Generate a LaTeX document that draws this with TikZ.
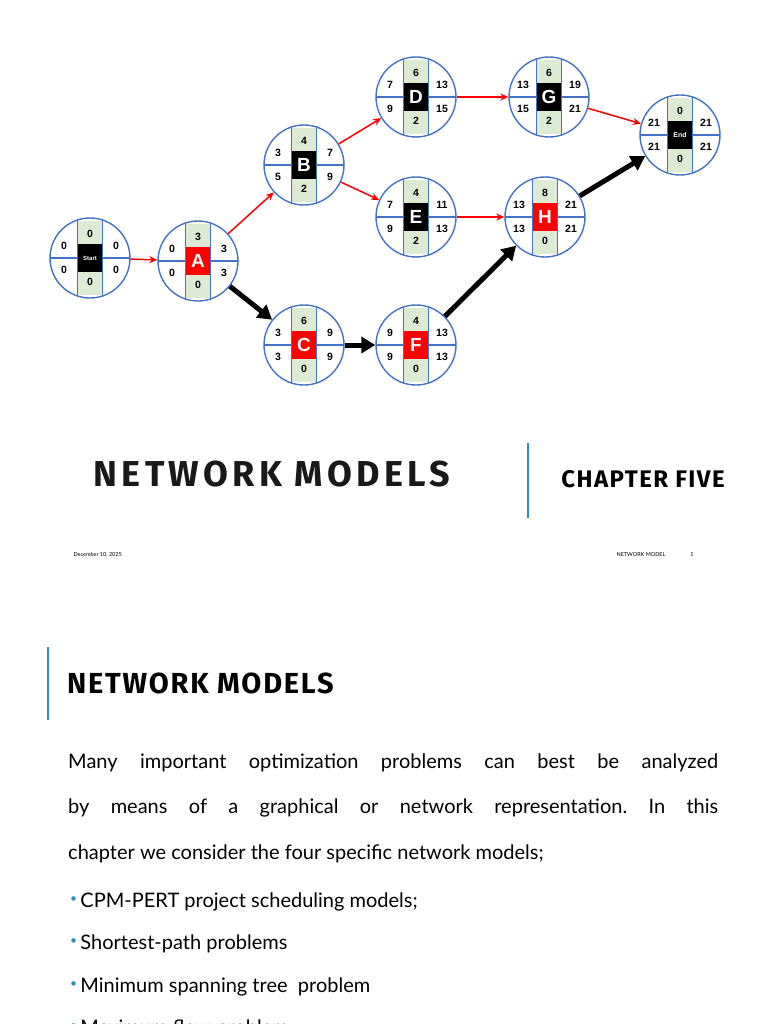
\documentclass[tikz,border=0pt]{standalone}
\usepackage{fontspec}
\setmainfont{Lato}
\newfontfamily\titlef[LetterSpace=12]{Fira Sans}
\newfontfamily\titlefb[LetterSpace=6]{Fira Sans}
\newfontfamily\numf{Liberation Sans}
\usetikzlibrary{arrows.meta}
\definecolor{cblue}{HTML}{4472C4}
\definecolor{sgreen}{HTML}{DDEBD5}
\definecolor{accent}{HTML}{2E8BC0}
\tikzset{num/.style={font=\numf\bfseries\fontsize{10.5}{10.5}\selectfont}}
\def\numpair#1{\numpairx#1\relax}
\def\numpairx#1/#2\relax{\node[num] at (26,-12) {#1};\node[num] at (26,12) {#2};}
\newcommand{\netnode}[9]{%
 \begin{scope}[shift={#2}]
  \fill[sgreen] (-12.5,-37) rectangle (12.5,37);
  \fill[#4] (-12.5,-14) rectangle (12.5,14);
  \draw[cblue,line width=1.2pt] (-12.5,-39) -- (-12.5,39) (12.5,-39) -- (12.5,39) (-40,0) -- (-12.5,0) (12.5,0) -- (40,0);
  \node[circle,draw=cblue,line width=1.4pt,minimum size=80pt,inner sep=0pt] (#1) at (0,0) {};
  \node[num] at (0,-24) {#5};
  \node[num] at (0,24) {#6};
  \node[num] at (-26,-12) {#7};
  \node[num] at (-26,12) {#8};
  \node[font=\numf\bfseries\fontsize{9}{9}\selectfont,white] at (0,0) {#3};
  \numpair{#9}
 \end{scope}}
\def\big#1{\fontsize{19}{19}\selectfont #1}
\tikzset{redarr/.style={red,line width=1.5pt,-{Stealth[length=8pt,width=7pt]}},
blkarr/.style={black,line width=5pt,-{Triangle[length=14pt,width=16pt]}},
body/.style={font=\fontsize{20}{20}\selectfont,anchor=base west,inner sep=0pt}}
\begin{document}
\begin{tikzpicture}[x=1pt,y=-1pt]
\useasboundingbox (0,0) rectangle (768,1024);
\fill[white] (0,0) rectangle (768,1024);
\netnode{S}{(90,258)}{\fontsize{6}{6}\selectfont Start}{black}{0}{0}{0}{0}{0/0}
\netnode{A}{(198,261)}{\big A}{red}{3}{0}{0}{0}{3/3}
\netnode{B}{(304,165)}{\big B}{black}{4}{2}{3}{5}{7/9}
\netnode{C}{(304,345)}{\big C}{red}{6}{0}{3}{3}{9/9}
\netnode{D}{(416,97)}{\big D}{black}{6}{2}{7}{9}{13/15}
\netnode{E}{(416,217)}{\big E}{black}{4}{2}{7}{9}{11/13}
\netnode{F}{(416,345)}{\big F}{red}{4}{0}{9}{9}{13/13}
\netnode{G}{(549,97)}{\big G}{black}{6}{2}{13}{15}{19/21}
\netnode{H}{(545,217)}{\big H}{red}{8}{0}{13}{13}{21/21}
\netnode{End}{(680,135)}{\fontsize{7}{7}\selectfont End}{black}{0}{0}{21}{21}{21/21}
\draw[redarr] (S) -- (A);
\draw[redarr] (A) -- (B);
\draw[redarr] (B) -- (D);
\draw[redarr] (B) -- (E);
\draw[redarr] (D) -- (G);
\draw[redarr] (E) -- (H);
\draw[redarr] (G) -- (End);
\draw[blkarr] (A) -- (C);
\draw[blkarr] (C) -- (F);
\draw[blkarr] (F) -- (H);
\draw[blkarr] (H) -- (End);
% title slide
\node[font=\titlef\bfseries\fontsize{36}{36}\selectfont,text=black!90] (t1) at (272,474) {NETWORK MODELS};
\draw[accent,line width=1.5pt] (528,443) -- (528,518);
\node[font=\titlefb\bfseries\fontsize{24}{24}\selectfont] (t2) at (643,479) {CHAPTER FIVE};
\node[font=\fontsize{5.5}{6}\selectfont,anchor=west] (d) at (70,555) {December 10, 2025};
\node[font=\fontsize{5.5}{6}\selectfont] (nm) at (641,555) {NETWORK MODEL};
\node[font=\fontsize{5.5}{6}\selectfont] (pg) at (692,555) {1};
% second slide
\draw[accent,line width=1.5pt] (48,647) -- (48,720);
\node[font=\titlefb\bfseries\fontsize{29}{29}\selectfont,anchor=west,inner sep=0pt] (t3) at (67,683) {NETWORK MODELS};
\node[body] (l1) at (68,768) {\makebox[650pt][s]{Many important optimization problems can best be analyzed}};
\node[body] (l2) at (68,813) {\makebox[650pt][s]{by means of a graphical or network representation.\ In this}};
\node[body] (l3) at (68,859) {chapter we consider the four specific network models;};
\foreach \y/\t in {907/CPM-PERT project scheduling models;,949/Shortest-path problems,992/Minimum spanning tree\ \ problem,1034/Maximum flow problem}{
 \node[body] at (70,\y) {\raisebox{5pt}{\textcolor{accent}{\fontsize{12}{12}\selectfont\textbullet}}\,\t};
}
\end{tikzpicture}
\end{document}
